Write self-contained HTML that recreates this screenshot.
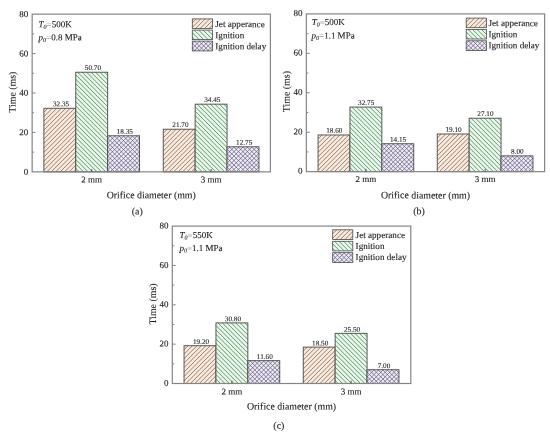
<!DOCTYPE html>
<html lang="en"><head><meta charset="utf-8"><title>Figure</title><style>html,body{margin:0;padding:0;background:#fff}svg text{stroke:#1a1a1a;stroke-width:.1px}svg{filter:blur(.35px)}body{width:550px;height:438px;overflow:hidden}</style></head><body>
<svg width="550" height="438" viewBox="0 0 550 438" style="display:block;text-rendering:geometricPrecision">
<rect width="550" height="438" fill="#fff"/>
<g font-family="'Liberation Serif','Times New Roman',serif" fill="#1a1a1a">
<rect x="43.88" y="108.28" width="31.90" height="63.57" fill="#fde9d9"/><path d="M43.88,112.28L47.88,108.28M43.88,116.74L52.34,108.28M43.88,121.20L56.80,108.28M43.88,125.66L61.26,108.28M43.88,130.12L65.72,108.28M43.88,134.58L70.18,108.28M43.88,139.04L74.64,108.28M43.88,143.50L75.78,111.60M43.88,147.96L75.78,116.06M43.88,152.42L75.78,120.52M43.88,156.88L75.78,124.98M43.88,161.34L75.78,129.44M43.88,165.80L75.78,133.90M43.88,170.26L75.78,138.36M46.75,171.85L75.78,142.82M51.21,171.85L75.78,147.28M55.67,171.85L75.78,151.74M60.13,171.85L75.78,156.20M64.59,171.85L75.78,160.66M69.05,171.85L75.78,165.12M73.51,171.85L75.78,169.58" stroke="#5c5651" stroke-width="0.7" fill="none"/><rect x="43.88" y="108.28" width="31.90" height="63.57" fill="none" stroke="#484848" stroke-width="0.9"/>
<text x="61.03" y="106.18" transform="rotate(0.05 61.03 106.18)" font-size="7.2" text-anchor="middle">32.35</text>
<rect x="75.78" y="72.22" width="31.90" height="99.63" fill="#e1fbe6"/><path d="M75.78,168.44L79.19,171.85M75.78,163.98L83.65,171.85M75.78,159.52L88.11,171.85M75.78,155.06L92.57,171.85M75.78,150.60L97.03,171.85M75.78,146.14L101.49,171.85M75.78,141.68L105.95,171.85M75.78,137.22L107.68,169.12M75.78,132.76L107.68,164.66M75.78,128.30L107.68,160.20M75.78,123.84L107.68,155.74M75.78,119.38L107.68,151.28M75.78,114.92L107.68,146.82M75.78,110.46L107.68,142.36M75.78,106.00L107.68,137.90M75.78,101.54L107.68,133.44M75.78,97.08L107.68,128.98M75.78,92.62L107.68,124.52M75.78,88.16L107.68,120.06M75.78,83.70L107.68,115.60M75.78,79.24L107.68,111.14M75.78,74.78L107.68,106.68M77.68,72.22L107.68,102.22M82.14,72.22L107.68,97.76M86.60,72.22L107.68,93.30M91.06,72.22L107.68,88.84M95.52,72.22L107.68,84.38M99.98,72.22L107.68,79.92M104.44,72.22L107.68,75.46" stroke="#505c52" stroke-width="0.7" fill="none"/><rect x="75.78" y="72.22" width="31.90" height="99.63" fill="none" stroke="#484848" stroke-width="0.9"/>
<text x="92.93" y="70.12" transform="rotate(0.05 92.93 70.12)" font-size="7.2" text-anchor="middle">50.70</text>
<rect x="107.68" y="135.79" width="31.90" height="36.06" fill="#eee8fc"/><path d="M107.68,138.66L110.55,135.79M107.68,143.12L115.01,135.79M107.68,147.58L119.47,135.79M107.68,152.04L123.93,135.79M107.68,156.50L128.39,135.79M107.68,160.96L132.85,135.79M107.68,165.42L137.31,135.79M107.68,169.88L139.58,137.98M110.17,171.85L139.58,142.44M114.63,171.85L139.58,146.90M119.09,171.85L139.58,151.36M123.55,171.85L139.58,155.82M128.01,171.85L139.58,160.28M132.47,171.85L139.58,164.74M136.93,171.85L139.58,169.20" stroke="#524d5a" stroke-width="0.64" fill="none"/><path d="M107.68,169.34L110.19,171.85M107.68,164.88L114.65,171.85M107.68,160.42L119.11,171.85M107.68,155.96L123.57,171.85M107.68,151.50L128.03,171.85M107.68,147.04L132.49,171.85M107.68,142.58L136.95,171.85M107.68,138.12L139.58,170.02M109.81,135.79L139.58,165.56M114.27,135.79L139.58,161.10M118.73,135.79L139.58,156.64M123.19,135.79L139.58,152.18M127.65,135.79L139.58,147.72M132.11,135.79L139.58,143.26M136.57,135.79L139.58,138.80" stroke="#524d5a" stroke-width="0.64" fill="none"/><rect x="107.68" y="135.79" width="31.90" height="36.06" fill="none" stroke="#484848" stroke-width="0.9"/>
<text x="124.83" y="133.69" transform="rotate(0.05 124.83 133.69)" font-size="7.2" text-anchor="middle">18.35</text>
<rect x="163.25" y="129.21" width="31.90" height="42.64" fill="#fde9d9"/><path d="M163.25,133.21L167.25,129.21M163.25,137.67L171.71,129.21M163.25,142.13L176.17,129.21M163.25,146.59L180.63,129.21M163.25,151.05L185.09,129.21M163.25,155.51L189.55,129.21M163.25,159.97L194.01,129.21M163.25,164.43L195.15,132.53M163.25,168.89L195.15,136.99M164.75,171.85L195.15,141.45M169.21,171.85L195.15,145.91M173.67,171.85L195.15,150.37M178.13,171.85L195.15,154.83M182.59,171.85L195.15,159.29M187.05,171.85L195.15,163.75M191.51,171.85L195.15,168.21" stroke="#5c5651" stroke-width="0.7" fill="none"/><rect x="163.25" y="129.21" width="31.90" height="42.64" fill="none" stroke="#484848" stroke-width="0.9"/>
<text x="180.40" y="127.11" transform="rotate(0.05 180.40 127.11)" font-size="7.2" text-anchor="middle">21.70</text>
<rect x="195.15" y="104.16" width="31.90" height="67.69" fill="#e1fbe6"/><path d="M195.15,169.16L197.84,171.85M195.15,164.70L202.30,171.85M195.15,160.24L206.76,171.85M195.15,155.78L211.22,171.85M195.15,151.32L215.68,171.85M195.15,146.86L220.14,171.85M195.15,142.40L224.60,171.85M195.15,137.94L227.05,169.84M195.15,133.48L227.05,165.38M195.15,129.02L227.05,160.92M195.15,124.56L227.05,156.46M195.15,120.10L227.05,152.00M195.15,115.64L227.05,147.54M195.15,111.18L227.05,143.08M195.15,106.72L227.05,138.62M197.05,104.16L227.05,134.16M201.51,104.16L227.05,129.70M205.97,104.16L227.05,125.24M210.43,104.16L227.05,120.78M214.89,104.16L227.05,116.32M219.35,104.16L227.05,111.86M223.81,104.16L227.05,107.40" stroke="#505c52" stroke-width="0.7" fill="none"/><rect x="195.15" y="104.16" width="31.90" height="67.69" fill="none" stroke="#484848" stroke-width="0.9"/>
<text x="212.30" y="102.06" transform="rotate(0.05 212.30 102.06)" font-size="7.2" text-anchor="middle">34.45</text>
<rect x="227.05" y="146.80" width="31.90" height="25.05" fill="#eee8fc"/><path d="M227.05,149.67L229.92,146.80M227.05,154.13L234.38,146.80M227.05,158.59L238.84,146.80M227.05,163.05L243.30,146.80M227.05,167.51L247.76,146.80M227.17,171.85L252.22,146.80M231.63,171.85L256.68,146.80M236.09,171.85L258.95,148.99M240.55,171.85L258.95,153.45M245.01,171.85L258.95,157.91M249.47,171.85L258.95,162.37M253.93,171.85L258.95,166.83M258.39,171.85L258.95,171.29" stroke="#524d5a" stroke-width="0.64" fill="none"/><path d="M227.05,171.43L227.47,171.85M227.05,166.97L231.93,171.85M227.05,162.51L236.39,171.85M227.05,158.05L240.85,171.85M227.05,153.59L245.31,171.85M227.05,149.13L249.77,171.85M229.18,146.80L254.23,171.85M233.64,146.80L258.69,171.85M238.10,146.80L258.95,167.65M242.56,146.80L258.95,163.19M247.02,146.80L258.95,158.73M251.48,146.80L258.95,154.27M255.94,146.80L258.95,149.81" stroke="#524d5a" stroke-width="0.64" fill="none"/><rect x="227.05" y="146.80" width="31.90" height="25.05" fill="none" stroke="#484848" stroke-width="0.9"/>
<text x="244.20" y="144.70" transform="rotate(0.05 244.20 144.70)" font-size="7.2" text-anchor="middle">12.75</text>
<rect x="32.15" y="14.15" width="238.25" height="157.70" fill="none" stroke="#858585" stroke-width="1.2"/>
<text x="28.35" y="174.70" transform="rotate(0.05 28.35 174.70)" font-size="9" text-anchor="end">0</text>
<line x1="32.15" y1="152.14" x2="34.15" y2="152.14" stroke="#858585" stroke-width="1.0"/>
<line x1="32.15" y1="132.43" x2="35.55" y2="132.43" stroke="#858585" stroke-width="1.0"/>
<text x="28.35" y="135.28" transform="rotate(0.05 28.35 135.28)" font-size="9" text-anchor="end">20</text>
<line x1="32.15" y1="112.71" x2="34.15" y2="112.71" stroke="#858585" stroke-width="1.0"/>
<line x1="32.15" y1="93.00" x2="35.55" y2="93.00" stroke="#858585" stroke-width="1.0"/>
<text x="28.35" y="95.85" transform="rotate(0.05 28.35 95.85)" font-size="9" text-anchor="end">40</text>
<line x1="32.15" y1="73.29" x2="34.15" y2="73.29" stroke="#858585" stroke-width="1.0"/>
<line x1="32.15" y1="53.58" x2="35.55" y2="53.58" stroke="#858585" stroke-width="1.0"/>
<text x="28.35" y="56.42" transform="rotate(0.05 28.35 56.42)" font-size="9" text-anchor="end">60</text>
<line x1="32.15" y1="33.86" x2="34.15" y2="33.86" stroke="#858585" stroke-width="1.0"/>
<text x="28.35" y="17.00" transform="rotate(0.05 28.35 17.00)" font-size="9" text-anchor="end">80</text>
<line x1="91.73" y1="171.85" x2="91.73" y2="169.04999999999998" stroke="#444" stroke-width="0.9"/>
<text x="91.73" y="182.60" transform="rotate(0.05 91.73 182.60)" font-size="9" text-anchor="middle">2 mm</text>
<line x1="211.10" y1="171.85" x2="211.10" y2="169.04999999999998" stroke="#444" stroke-width="0.9"/>
<text x="211.10" y="182.60" transform="rotate(0.05 211.10 182.60)" font-size="9" text-anchor="middle">3 mm</text>
<text x="151.27" y="198.20" transform="rotate(0.05 151.27 198.20)" font-size="9.85" text-anchor="middle">Orifice diameter (mm)</text>
<text transform="translate(15.6,92.2) rotate(-89.95)" font-size="9.9" text-anchor="middle">Time (ms)</text>
<text x="38.60" y="27.20" transform="rotate(0.05 38.60 27.20)" font-size="9" text-anchor="start"><tspan font-style="italic">T</tspan><tspan font-style="italic" font-size="6" dy="1.6">0</tspan><tspan dy="-1.6" fill="#6e6e6e" stroke="none">=</tspan><tspan>500K</tspan></text>
<text x="38.60" y="40.30" transform="rotate(0.05 38.60 40.30)" font-size="9" text-anchor="start"><tspan font-style="italic">p</tspan><tspan font-style="italic" font-size="6" dy="1.6">0</tspan><tspan dy="-1.6" fill="#6e6e6e" stroke="none">=</tspan><tspan>0.8 MPa</tspan></text>
<rect x="192.30" y="18.90" width="20.20" height="9.70" fill="#fde9d9"/><path d="M192.30,22.90L196.30,18.90M192.30,27.36L200.76,18.90M195.52,28.60L205.22,18.90M199.98,28.60L209.68,18.90M204.44,28.60L212.50,20.54M208.90,28.60L212.50,25.00" stroke="#5c5651" stroke-width="0.7" fill="none"/><rect x="192.30" y="18.90" width="20.20" height="9.70" fill="none" stroke="#484848" stroke-width="0.8"/>
<text x="215.30" y="27.10" transform="rotate(0.05 215.30 27.10)" font-size="9.15" text-anchor="start">Jet apperance</text>
<rect x="192.30" y="30.10" width="20.20" height="9.50" fill="#e1fbe6"/><path d="M192.30,37.12L194.78,39.60M192.30,32.66L199.24,39.60M194.20,30.10L203.70,39.60M198.66,30.10L208.16,39.60M203.12,30.10L212.50,39.48M207.58,30.10L212.50,35.02M212.04,30.10L212.50,30.56" stroke="#505c52" stroke-width="0.7" fill="none"/><rect x="192.30" y="30.10" width="20.20" height="9.50" fill="none" stroke="#484848" stroke-width="0.8"/>
<text x="215.30" y="38.15" transform="rotate(0.05 215.30 38.15)" font-size="9.15" text-anchor="start">Ignition</text>
<rect x="192.30" y="41.10" width="20.20" height="9.80" fill="#eee8fc"/><path d="M192.30,43.97L195.17,41.10M192.30,48.43L199.63,41.10M194.29,50.90L204.09,41.10M198.75,50.90L208.55,41.10M203.21,50.90L212.50,41.61M207.67,50.90L212.50,46.07M212.13,50.90L212.50,50.53" stroke="#524d5a" stroke-width="0.64" fill="none"/><path d="M192.30,47.89L195.31,50.90M192.30,43.43L199.77,50.90M194.43,41.10L204.23,50.90M198.89,41.10L208.69,50.90M203.35,41.10L212.50,50.25M207.81,41.10L212.50,45.79M212.27,41.10L212.50,41.33" stroke="#524d5a" stroke-width="0.64" fill="none"/><rect x="192.30" y="41.10" width="20.20" height="9.80" fill="none" stroke="#484848" stroke-width="0.8"/>
<text x="215.30" y="49.20" transform="rotate(0.05 215.30 49.20)" font-size="9.15" text-anchor="start">Ignition delay</text>
<text x="137.30" y="214.40" transform="rotate(0.05 137.30 214.40)" font-size="9.9" text-anchor="middle">(a)</text>
</g>
<g font-family="'Liberation Serif','Times New Roman',serif" fill="#1a1a1a">
<rect x="318.05" y="134.97" width="31.90" height="36.68" fill="#fde9d9"/><path d="M318.05,138.97L322.05,134.97M318.05,143.43L326.51,134.97M318.05,147.89L330.97,134.97M318.05,152.35L335.43,134.97M318.05,156.81L339.89,134.97M318.05,161.27L344.35,134.97M318.05,165.73L348.81,134.97M318.05,170.19L349.95,138.29M321.05,171.65L349.95,142.75M325.51,171.65L349.95,147.21M329.97,171.65L349.95,151.67M334.43,171.65L349.95,156.13M338.89,171.65L349.95,160.59M343.35,171.65L349.95,165.05M347.81,171.65L349.95,169.51" stroke="#5c5651" stroke-width="0.7" fill="none"/><rect x="318.05" y="134.97" width="31.90" height="36.68" fill="none" stroke="#484848" stroke-width="0.9"/>
<text x="334.30" y="132.87" transform="rotate(0.05 334.30 132.87)" font-size="7.2" text-anchor="middle">18.60</text>
<rect x="349.95" y="107.07" width="31.90" height="64.58" fill="#e1fbe6"/><path d="M349.95,167.61L353.99,171.65M349.95,163.15L358.45,171.65M349.95,158.69L362.91,171.65M349.95,154.23L367.37,171.65M349.95,149.77L371.83,171.65M349.95,145.31L376.29,171.65M349.95,140.85L380.75,171.65M349.95,136.39L381.85,168.29M349.95,131.93L381.85,163.83M349.95,127.47L381.85,159.37M349.95,123.01L381.85,154.91M349.95,118.55L381.85,150.45M349.95,114.09L381.85,145.99M349.95,109.63L381.85,141.53M351.85,107.07L381.85,137.07M356.31,107.07L381.85,132.61M360.77,107.07L381.85,128.15M365.23,107.07L381.85,123.69M369.69,107.07L381.85,119.23M374.15,107.07L381.85,114.77M378.61,107.07L381.85,110.31" stroke="#505c52" stroke-width="0.7" fill="none"/><rect x="349.95" y="107.07" width="31.90" height="64.58" fill="none" stroke="#484848" stroke-width="0.9"/>
<text x="366.20" y="104.97" transform="rotate(0.05 366.20 104.97)" font-size="7.2" text-anchor="middle">32.75</text>
<rect x="381.85" y="143.75" width="31.90" height="27.90" fill="#eee8fc"/><path d="M381.85,146.62L384.72,143.75M381.85,151.08L389.18,143.75M381.85,155.54L393.64,143.75M381.85,160.00L398.10,143.75M381.85,164.46L402.56,143.75M381.85,168.92L407.02,143.75M383.58,171.65L411.48,143.75M388.04,171.65L413.75,145.94M392.50,171.65L413.75,150.40M396.96,171.65L413.75,154.86M401.42,171.65L413.75,159.32M405.88,171.65L413.75,163.78M410.34,171.65L413.75,168.24" stroke="#524d5a" stroke-width="0.64" fill="none"/><path d="M381.85,168.38L385.12,171.65M381.85,163.92L389.58,171.65M381.85,159.46L394.04,171.65M381.85,155.00L398.50,171.65M381.85,150.54L402.96,171.65M381.85,146.08L407.42,171.65M383.98,143.75L411.88,171.65M388.44,143.75L413.75,169.06M392.90,143.75L413.75,164.60M397.36,143.75L413.75,160.14M401.82,143.75L413.75,155.68M406.28,143.75L413.75,151.22M410.74,143.75L413.75,146.76" stroke="#524d5a" stroke-width="0.64" fill="none"/><rect x="381.85" y="143.75" width="31.90" height="27.90" fill="none" stroke="#484848" stroke-width="0.9"/>
<text x="398.10" y="141.65" transform="rotate(0.05 398.10 141.65)" font-size="7.2" text-anchor="middle">14.15</text>
<rect x="437.25" y="133.98" width="31.90" height="37.67" fill="#fde9d9"/><path d="M437.25,137.98L441.25,133.98M437.25,142.44L445.71,133.98M437.25,146.90L450.17,133.98M437.25,151.36L454.63,133.98M437.25,155.82L459.09,133.98M437.25,160.28L463.55,133.98M437.25,164.74L468.01,133.98M437.25,169.20L469.15,137.30M439.26,171.65L469.15,141.76M443.72,171.65L469.15,146.22M448.18,171.65L469.15,150.68M452.64,171.65L469.15,155.14M457.10,171.65L469.15,159.60M461.56,171.65L469.15,164.06M466.02,171.65L469.15,168.52" stroke="#5c5651" stroke-width="0.7" fill="none"/><rect x="437.25" y="133.98" width="31.90" height="37.67" fill="none" stroke="#484848" stroke-width="0.9"/>
<text x="453.50" y="131.88" transform="rotate(0.05 453.50 131.88)" font-size="7.2" text-anchor="middle">19.10</text>
<rect x="469.15" y="118.21" width="31.90" height="53.44" fill="#e1fbe6"/><path d="M469.15,169.83L470.97,171.65M469.15,165.37L475.43,171.65M469.15,160.91L479.89,171.65M469.15,156.45L484.35,171.65M469.15,151.99L488.81,171.65M469.15,147.53L493.27,171.65M469.15,143.07L497.73,171.65M469.15,138.61L501.05,170.51M469.15,134.15L501.05,166.05M469.15,129.69L501.05,161.59M469.15,125.23L501.05,157.13M469.15,120.77L501.05,152.67M471.05,118.21L501.05,148.21M475.51,118.21L501.05,143.75M479.97,118.21L501.05,139.29M484.43,118.21L501.05,134.83M488.89,118.21L501.05,130.37M493.35,118.21L501.05,125.91M497.81,118.21L501.05,121.45" stroke="#505c52" stroke-width="0.7" fill="none"/><rect x="469.15" y="118.21" width="31.90" height="53.44" fill="none" stroke="#484848" stroke-width="0.9"/>
<text x="485.40" y="116.11" transform="rotate(0.05 485.40 116.11)" font-size="7.2" text-anchor="middle">27.10</text>
<rect x="501.05" y="155.87" width="31.90" height="15.78" fill="#eee8fc"/><path d="M501.05,158.74L503.92,155.87M501.05,163.20L508.38,155.87M501.05,167.66L512.84,155.87M501.52,171.65L517.30,155.87M505.98,171.65L521.76,155.87M510.44,171.65L526.22,155.87M514.90,171.65L530.68,155.87M519.36,171.65L532.95,158.06M523.82,171.65L532.95,162.52M528.28,171.65L532.95,166.98M532.74,171.65L532.95,171.44" stroke="#524d5a" stroke-width="0.64" fill="none"/><path d="M501.05,171.58L501.12,171.65M501.05,167.12L505.58,171.65M501.05,162.66L510.04,171.65M501.05,158.20L514.50,171.65M503.18,155.87L518.96,171.65M507.64,155.87L523.42,171.65M512.10,155.87L527.88,171.65M516.56,155.87L532.34,171.65M521.02,155.87L532.95,167.80M525.48,155.87L532.95,163.34M529.94,155.87L532.95,158.88" stroke="#524d5a" stroke-width="0.64" fill="none"/><rect x="501.05" y="155.87" width="31.90" height="15.78" fill="none" stroke="#484848" stroke-width="0.9"/>
<text x="517.30" y="153.77" transform="rotate(0.05 517.30 153.77)" font-size="7.2" text-anchor="middle">8.00</text>
<rect x="306.35" y="13.9" width="238.25" height="157.75" fill="none" stroke="#858585" stroke-width="1.2"/>
<text x="302.55" y="173.85" transform="rotate(0.05 302.55 173.85)" font-size="9" text-anchor="end">0</text>
<line x1="306.35" y1="151.93" x2="308.35" y2="151.93" stroke="#858585" stroke-width="1.0"/>
<line x1="306.35" y1="132.21" x2="309.75" y2="132.21" stroke="#858585" stroke-width="1.0"/>
<text x="302.55" y="134.41" transform="rotate(0.05 302.55 134.41)" font-size="9" text-anchor="end">20</text>
<line x1="306.35" y1="112.49" x2="308.35" y2="112.49" stroke="#858585" stroke-width="1.0"/>
<line x1="306.35" y1="92.78" x2="309.75" y2="92.78" stroke="#858585" stroke-width="1.0"/>
<text x="302.55" y="94.98" transform="rotate(0.05 302.55 94.98)" font-size="9" text-anchor="end">40</text>
<line x1="306.35" y1="73.06" x2="308.35" y2="73.06" stroke="#858585" stroke-width="1.0"/>
<line x1="306.35" y1="53.34" x2="309.75" y2="53.34" stroke="#858585" stroke-width="1.0"/>
<text x="302.55" y="55.54" transform="rotate(0.05 302.55 55.54)" font-size="9" text-anchor="end">60</text>
<line x1="306.35" y1="33.62" x2="308.35" y2="33.62" stroke="#858585" stroke-width="1.0"/>
<text x="302.55" y="16.10" transform="rotate(0.05 302.55 16.10)" font-size="9" text-anchor="end">80</text>
<line x1="365.90" y1="171.65" x2="365.90" y2="168.85" stroke="#444" stroke-width="0.9"/>
<text x="365.90" y="181.90" transform="rotate(0.05 365.90 181.90)" font-size="9" text-anchor="middle">2 mm</text>
<line x1="485.10" y1="171.65" x2="485.10" y2="168.85" stroke="#444" stroke-width="0.9"/>
<text x="485.10" y="181.90" transform="rotate(0.05 485.10 181.90)" font-size="9" text-anchor="middle">3 mm</text>
<text x="425.48" y="198.40" transform="rotate(0.05 425.48 198.40)" font-size="9.85" text-anchor="middle">Orifice diameter (mm)</text>
<text transform="translate(289.5,91.6) rotate(-89.95)" font-size="9.9" text-anchor="middle">Time (ms)</text>
<text x="311.70" y="24.90" transform="rotate(0.05 311.70 24.90)" font-size="9" text-anchor="start"><tspan font-style="italic">T</tspan><tspan font-style="italic" font-size="6" dy="1.6">0</tspan><tspan dy="-1.6" fill="#6e6e6e" stroke="none">=</tspan><tspan>500K</tspan></text>
<text x="311.55" y="38.50" transform="rotate(0.05 311.55 38.50)" font-size="9" text-anchor="start"><tspan font-style="italic">p</tspan><tspan font-style="italic" font-size="6" dy="1.6">0</tspan><tspan dy="-1.6" fill="#6e6e6e" stroke="none">=</tspan><tspan>1.1 MPa</tspan></text>
<rect x="466.20" y="18.10" width="20.30" height="9.60" fill="#fde9d9"/><path d="M466.20,22.10L470.20,18.10M466.20,26.56L474.66,18.10M469.52,27.70L479.12,18.10M473.98,27.70L483.58,18.10M478.44,27.70L486.50,19.64M482.90,27.70L486.50,24.10" stroke="#5c5651" stroke-width="0.7" fill="none"/><rect x="466.20" y="18.10" width="20.30" height="9.60" fill="none" stroke="#484848" stroke-width="0.8"/>
<text x="488.50" y="26.10" transform="rotate(0.05 488.50 26.10)" font-size="9.15" text-anchor="start">Jet apperance</text>
<rect x="466.20" y="29.40" width="20.30" height="9.60" fill="#e1fbe6"/><path d="M466.20,36.42L468.78,39.00M466.20,31.96L473.24,39.00M468.10,29.40L477.70,39.00M472.56,29.40L482.16,39.00M477.02,29.40L486.50,38.88M481.48,29.40L486.50,34.42M485.94,29.40L486.50,29.96" stroke="#505c52" stroke-width="0.7" fill="none"/><rect x="466.20" y="29.40" width="20.30" height="9.60" fill="none" stroke="#484848" stroke-width="0.8"/>
<text x="488.50" y="37.15" transform="rotate(0.05 488.50 37.15)" font-size="9.15" text-anchor="start">Ignition</text>
<rect x="466.20" y="40.80" width="20.30" height="9.60" fill="#eee8fc"/><path d="M466.20,43.67L469.07,40.80M466.20,48.13L473.53,40.80M468.39,50.40L477.99,40.80M472.85,50.40L482.45,40.80M477.31,50.40L486.50,41.21M481.77,50.40L486.50,45.67M486.23,50.40L486.50,50.13" stroke="#524d5a" stroke-width="0.64" fill="none"/><path d="M466.20,47.59L469.01,50.40M466.20,43.13L473.47,50.40M468.33,40.80L477.93,50.40M472.79,40.80L482.39,50.40M477.25,40.80L486.50,50.05M481.71,40.80L486.50,45.59M486.17,40.80L486.50,41.13" stroke="#524d5a" stroke-width="0.64" fill="none"/><rect x="466.20" y="40.80" width="20.30" height="9.60" fill="none" stroke="#484848" stroke-width="0.8"/>
<text x="488.50" y="48.20" transform="rotate(0.05 488.50 48.20)" font-size="9.15" text-anchor="start">Ignition delay</text>
<text x="419.10" y="214.20" transform="rotate(0.05 419.10 214.20)" font-size="9.9" text-anchor="middle">(b)</text>
</g>
<g font-family="'Liberation Serif','Times New Roman',serif" fill="#1a1a1a">
<rect x="184.05" y="345.72" width="31.90" height="37.78" fill="#fde9d9"/><path d="M184.05,349.72L188.05,345.72M184.05,354.18L192.51,345.72M184.05,358.64L196.97,345.72M184.05,363.10L201.43,345.72M184.05,367.56L205.89,345.72M184.05,372.02L210.35,345.72M184.05,376.48L214.81,345.72M184.05,380.94L215.95,349.04M185.95,383.50L215.95,353.50M190.41,383.50L215.95,357.96M194.87,383.50L215.95,362.42M199.33,383.50L215.95,366.88M203.79,383.50L215.95,371.34M208.25,383.50L215.95,375.80M212.71,383.50L215.95,380.26" stroke="#5c5651" stroke-width="0.7" fill="none"/><rect x="184.05" y="345.72" width="31.90" height="37.78" fill="none" stroke="#484848" stroke-width="0.9"/>
<text x="201.00" y="344.12" transform="rotate(0.05 201.00 344.12)" font-size="7.2" text-anchor="middle">19.20</text>
<rect x="215.95" y="322.90" width="31.90" height="60.60" fill="#e1fbe6"/><path d="M215.95,383.44L216.01,383.50M215.95,378.98L220.47,383.50M215.95,374.52L224.93,383.50M215.95,370.06L229.39,383.50M215.95,365.60L233.85,383.50M215.95,361.14L238.31,383.50M215.95,356.68L242.77,383.50M215.95,352.22L247.23,383.50M215.95,347.76L247.85,379.66M215.95,343.30L247.85,375.20M215.95,338.84L247.85,370.74M215.95,334.38L247.85,366.28M215.95,329.92L247.85,361.82M215.95,325.46L247.85,357.36M217.85,322.90L247.85,352.90M222.31,322.90L247.85,348.44M226.77,322.90L247.85,343.98M231.23,322.90L247.85,339.52M235.69,322.90L247.85,335.06M240.15,322.90L247.85,330.60M244.61,322.90L247.85,326.14" stroke="#505c52" stroke-width="0.7" fill="none"/><rect x="215.95" y="322.90" width="31.90" height="60.60" fill="none" stroke="#484848" stroke-width="0.9"/>
<text x="232.90" y="321.30" transform="rotate(0.05 232.90 321.30)" font-size="7.2" text-anchor="middle">30.80</text>
<rect x="247.85" y="360.68" width="31.90" height="22.82" fill="#eee8fc"/><path d="M247.85,363.55L250.72,360.68M247.85,368.01L255.18,360.68M247.85,372.47L259.64,360.68M247.85,376.93L264.10,360.68M247.85,381.39L268.56,360.68M250.20,383.50L273.02,360.68M254.66,383.50L277.48,360.68M259.12,383.50L279.75,362.87M263.58,383.50L279.75,367.33M268.04,383.50L279.75,371.79M272.50,383.50L279.75,376.25M276.96,383.50L279.75,380.71" stroke="#524d5a" stroke-width="0.64" fill="none"/><path d="M247.85,380.85L250.50,383.50M247.85,376.39L254.96,383.50M247.85,371.93L259.42,383.50M247.85,367.47L263.88,383.50M247.85,363.01L268.34,383.50M249.98,360.68L272.80,383.50M254.44,360.68L277.26,383.50M258.90,360.68L279.75,381.53M263.36,360.68L279.75,377.07M267.82,360.68L279.75,372.61M272.28,360.68L279.75,368.15M276.74,360.68L279.75,363.69" stroke="#524d5a" stroke-width="0.64" fill="none"/><rect x="247.85" y="360.68" width="31.90" height="22.82" fill="none" stroke="#484848" stroke-width="0.9"/>
<text x="264.80" y="359.08" transform="rotate(0.05 264.80 359.08)" font-size="7.2" text-anchor="middle">11.60</text>
<rect x="303.25" y="347.10" width="31.90" height="36.40" fill="#fde9d9"/><path d="M303.25,351.10L307.25,347.10M303.25,355.56L311.71,347.10M303.25,360.02L316.17,347.10M303.25,364.48L320.63,347.10M303.25,368.94L325.09,347.10M303.25,373.40L329.55,347.10M303.25,377.86L334.01,347.10M303.25,382.32L335.15,350.42M306.53,383.50L335.15,354.88M310.99,383.50L335.15,359.34M315.45,383.50L335.15,363.80M319.91,383.50L335.15,368.26M324.37,383.50L335.15,372.72M328.83,383.50L335.15,377.18M333.29,383.50L335.15,381.64" stroke="#5c5651" stroke-width="0.7" fill="none"/><rect x="303.25" y="347.10" width="31.90" height="36.40" fill="none" stroke="#484848" stroke-width="0.9"/>
<text x="320.20" y="345.50" transform="rotate(0.05 320.20 345.50)" font-size="7.2" text-anchor="middle">18.50</text>
<rect x="335.15" y="333.33" width="31.90" height="50.17" fill="#e1fbe6"/><path d="M335.15,380.49L338.16,383.50M335.15,376.03L342.62,383.50M335.15,371.57L347.08,383.50M335.15,367.11L351.54,383.50M335.15,362.65L356.00,383.50M335.15,358.19L360.46,383.50M335.15,353.73L364.92,383.50M335.15,349.27L367.05,381.17M335.15,344.81L367.05,376.71M335.15,340.35L367.05,372.25M335.15,335.89L367.05,367.79M337.05,333.33L367.05,363.33M341.51,333.33L367.05,358.87M345.97,333.33L367.05,354.41M350.43,333.33L367.05,349.95M354.89,333.33L367.05,345.49M359.35,333.33L367.05,341.03M363.81,333.33L367.05,336.57" stroke="#505c52" stroke-width="0.7" fill="none"/><rect x="335.15" y="333.33" width="31.90" height="50.17" fill="none" stroke="#484848" stroke-width="0.9"/>
<text x="352.10" y="331.73" transform="rotate(0.05 352.10 331.73)" font-size="7.2" text-anchor="middle">25.50</text>
<rect x="367.05" y="369.73" width="31.90" height="13.77" fill="#eee8fc"/><path d="M367.05,372.60L369.92,369.73M367.05,377.06L374.38,369.73M367.05,381.52L378.84,369.73M369.53,383.50L383.30,369.73M373.99,383.50L387.76,369.73M378.45,383.50L392.22,369.73M382.91,383.50L396.68,369.73M387.37,383.50L398.95,371.92M391.83,383.50L398.95,376.38M396.29,383.50L398.95,380.84" stroke="#524d5a" stroke-width="0.64" fill="none"/><path d="M367.05,380.98L369.57,383.50M367.05,376.52L374.03,383.50M367.05,372.06L378.49,383.50M369.18,369.73L382.95,383.50M373.64,369.73L387.41,383.50M378.10,369.73L391.87,383.50M382.56,369.73L396.33,383.50M387.02,369.73L398.95,381.66M391.48,369.73L398.95,377.20M395.94,369.73L398.95,372.74" stroke="#524d5a" stroke-width="0.64" fill="none"/><rect x="367.05" y="369.73" width="31.90" height="13.77" fill="none" stroke="#484848" stroke-width="0.9"/>
<text x="384.00" y="368.13" transform="rotate(0.05 384.00 368.13)" font-size="7.2" text-anchor="middle">7.00</text>
<rect x="172.3" y="226.1" width="238.50" height="157.40" fill="none" stroke="#858585" stroke-width="1.2"/>
<text x="168.50" y="385.95" transform="rotate(0.05 168.50 385.95)" font-size="9" text-anchor="end">0</text>
<line x1="172.3" y1="363.82" x2="174.3" y2="363.82" stroke="#858585" stroke-width="1.0"/>
<line x1="172.3" y1="344.15" x2="175.70000000000002" y2="344.15" stroke="#858585" stroke-width="1.0"/>
<text x="168.50" y="346.60" transform="rotate(0.05 168.50 346.60)" font-size="9" text-anchor="end">20</text>
<line x1="172.3" y1="324.48" x2="174.3" y2="324.48" stroke="#858585" stroke-width="1.0"/>
<line x1="172.3" y1="304.80" x2="175.70000000000002" y2="304.80" stroke="#858585" stroke-width="1.0"/>
<text x="168.50" y="307.25" transform="rotate(0.05 168.50 307.25)" font-size="9" text-anchor="end">40</text>
<line x1="172.3" y1="285.12" x2="174.3" y2="285.12" stroke="#858585" stroke-width="1.0"/>
<line x1="172.3" y1="265.45" x2="175.70000000000002" y2="265.45" stroke="#858585" stroke-width="1.0"/>
<text x="168.50" y="267.90" transform="rotate(0.05 168.50 267.90)" font-size="9" text-anchor="end">60</text>
<line x1="172.3" y1="245.78" x2="174.3" y2="245.78" stroke="#858585" stroke-width="1.0"/>
<text x="168.50" y="228.55" transform="rotate(0.05 168.50 228.55)" font-size="9" text-anchor="end">80</text>
<line x1="231.90" y1="383.5" x2="231.90" y2="380.7" stroke="#444" stroke-width="0.9"/>
<text x="231.90" y="394.40" transform="rotate(0.05 231.90 394.40)" font-size="9" text-anchor="middle">2 mm</text>
<line x1="351.10" y1="383.5" x2="351.10" y2="380.7" stroke="#444" stroke-width="0.9"/>
<text x="351.10" y="394.40" transform="rotate(0.05 351.10 394.40)" font-size="9" text-anchor="middle">3 mm</text>
<text x="291.55" y="409.60" transform="rotate(0.05 291.55 409.60)" font-size="9.85" text-anchor="middle">Orifice diameter (mm)</text>
<text transform="translate(156.0,304.0) rotate(-89.95)" font-size="9.9" text-anchor="middle">Time (ms)</text>
<text x="179.60" y="237.90" transform="rotate(0.05 179.60 237.90)" font-size="9" text-anchor="start"><tspan font-style="italic">T</tspan><tspan font-style="italic" font-size="6" dy="1.6">0</tspan><tspan dy="-1.6" fill="#6e6e6e" stroke="none">=</tspan><tspan>550K</tspan></text>
<text x="179.50" y="251.00" transform="rotate(0.05 179.50 251.00)" font-size="9" text-anchor="start"><tspan font-style="italic">p</tspan><tspan font-style="italic" font-size="6" dy="1.6">0</tspan><tspan dy="-1.6" fill="#6e6e6e" stroke="none">=</tspan><tspan>1.1 MPa</tspan></text>
<rect x="332.70" y="229.80" width="20.10" height="9.70" fill="#fde9d9"/><path d="M332.70,233.80L336.70,229.80M332.70,238.26L341.16,229.80M335.92,239.50L345.62,229.80M340.38,239.50L350.08,229.80M344.84,239.50L352.80,231.54M349.30,239.50L352.80,236.00" stroke="#5c5651" stroke-width="0.7" fill="none"/><rect x="332.70" y="229.80" width="20.10" height="9.70" fill="none" stroke="#484848" stroke-width="0.8"/>
<text x="355.60" y="237.90" transform="rotate(0.05 355.60 237.90)" font-size="9.15" text-anchor="start">Jet apperance</text>
<rect x="332.70" y="241.30" width="20.10" height="9.60" fill="#e1fbe6"/><path d="M332.70,248.32L335.28,250.90M332.70,243.86L339.74,250.90M334.60,241.30L344.20,250.90M339.06,241.30L348.66,250.90M343.52,241.30L352.80,250.58M347.98,241.30L352.80,246.12M352.44,241.30L352.80,241.66" stroke="#505c52" stroke-width="0.7" fill="none"/><rect x="332.70" y="241.30" width="20.10" height="9.60" fill="none" stroke="#484848" stroke-width="0.8"/>
<text x="355.60" y="248.95" transform="rotate(0.05 355.60 248.95)" font-size="9.15" text-anchor="start">Ignition</text>
<rect x="332.70" y="252.70" width="20.10" height="9.70" fill="#eee8fc"/><path d="M332.70,255.57L335.57,252.70M332.70,260.03L340.03,252.70M334.79,262.40L344.49,252.70M339.25,262.40L348.95,252.70M343.71,262.40L352.80,253.31M348.17,262.40L352.80,257.77M352.63,262.40L352.80,262.23" stroke="#524d5a" stroke-width="0.64" fill="none"/><path d="M332.70,259.49L335.61,262.40M332.70,255.03L340.07,262.40M334.83,252.70L344.53,262.40M339.29,252.70L348.99,262.40M343.75,252.70L352.80,261.75M348.21,252.70L352.80,257.29M352.67,252.70L352.80,252.83" stroke="#524d5a" stroke-width="0.64" fill="none"/><rect x="332.70" y="252.70" width="20.10" height="9.70" fill="none" stroke="#484848" stroke-width="0.8"/>
<text x="355.60" y="260.00" transform="rotate(0.05 355.60 260.00)" font-size="9.15" text-anchor="start">Ignition delay</text>
<text x="278.85" y="428.70" transform="rotate(0.05 278.85 428.70)" font-size="9.9" text-anchor="middle">(c)</text>
</g>
</svg>
</body></html>
